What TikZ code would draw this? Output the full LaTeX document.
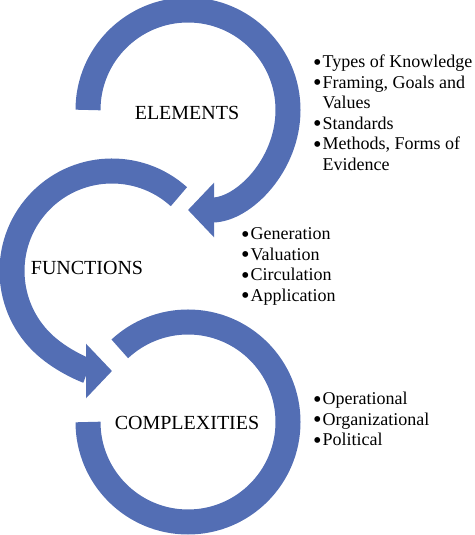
\documentclass[tikz,border=0pt]{standalone}
\usepackage{fontspec}
\setmainfont{Liberation Serif}
\usetikzlibrary{positioning, arrows.meta}
\definecolor{ringblue}{RGB}{83,110,180}
\newcommand{\dotmark}{\smash{\raisebox{-0.12em}{\scalebox{1.35}{\textbullet}}}}

\begin{document}
\begin{tikzpicture}[
    x=1pt, y=1pt,
    ring/.style={
        draw=ringblue,
        line width=25pt
    },
    head/.style={-{Triangle[width=53pt, length=26pt]}},
    title/.style={font=\fontsize{20}{24}\selectfont, inner sep=0pt},
    bullets/.style={font=\fontsize{18}{20.5}\selectfont, inner sep=0pt, anchor=base west}
]
\useasboundingbox (0,0) rectangle (474,535);

\coordinate (c1) at (188,425);
\coordinate (c2) at (112,264);
\coordinate (c3) at (188,113);

% the three rings
\draw[ring, head] ([shift={(180:100)}]c1) arc[start angle=180, end angle=-90, radius=100];
\draw[ring, head] ([shift={(48:100)}]c2) arc[start angle=48, end angle=270, radius=100];
\draw[ring] ([shift={(180:100)}]c3) arc[start angle=180, end angle=493, radius=100];

\node[title] (elements) at (187,422) {ELEMENTS};
\node[title] (functions) at (87,267) {FUNCTIONS};
\node[title] (complexities) at (187,112) {COMPLEXITIES};

\node[bullets] (elemlist) at (313,467) {\begin{tabular}[t]{@{}l@{\hspace{1pt}}l@{}}
\dotmark & Types of Knowledge\\
\dotmark & Framing, Goals and\\
 & Values\\
\dotmark & Standards\\
\dotmark & Methods, Forms of\\
 & Evidence
\end{tabular}};

\node[bullets] (funclist) at (241,295) {\begin{tabular}[t]{@{}l@{\hspace{1pt}}l@{}}
\dotmark & Generation\\
\dotmark & Valuation\\
\dotmark & Circulation\\
\dotmark & Application
\end{tabular}};

\node[bullets] (complist) at (313,130) {\begin{tabular}[t]{@{}l@{\hspace{1pt}}l@{}}
\dotmark & Operational\\
\dotmark & Organizational\\
\dotmark & Political
\end{tabular}};

\end{tikzpicture}
\end{document}
